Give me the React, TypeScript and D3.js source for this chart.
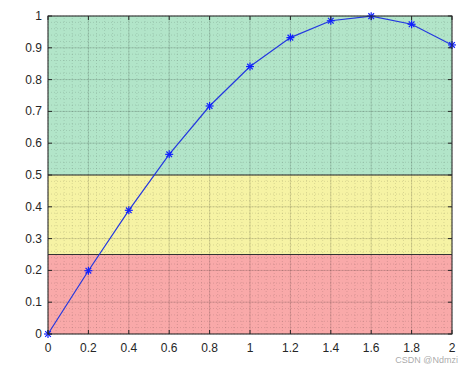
import React, { useEffect, useRef } from 'react';
import * as d3 from 'd3';

const xs = [0, 0.2, 0.4, 0.6, 0.8, 1, 1.2, 1.4, 1.6, 1.8, 2];
const ys = [0, 0.199, 0.389, 0.565, 0.717, 0.841, 0.932, 0.985, 0.9996, 0.974, 0.909];
const xTicks = [0, 0.2, 0.4, 0.6, 0.8, 1, 1.2, 1.4, 1.6, 1.8, 2];
const yTicks = [0, 0.1, 0.2, 0.3, 0.4, 0.5, 0.6, 0.7, 0.8, 0.9, 1];
const bands = [
  { from: 0, to: 0.25, color: '#f9a9a9' },
  { from: 0.25, to: 0.5, color: '#f6f3a4' },
  { from: 0.5, to: 1, color: '#b2e5c9' },
];

const App = () => {
  const ref = useRef<SVGSVGElement>(null);

  useEffect(() => {
    const width = 474;
    const height = 366;
    const m = { left: 48, right: 22, top: 16, bottom: 32 };

    const svg = d3.select(ref.current);
    svg.selectAll('*').remove();

    const x = d3.scaleLinear().domain([0, 2]).range([m.left, width - m.right]);
    const y = d3.scaleLinear().domain([0, 1]).range([height - m.bottom, m.top]);

    // colour bands
    svg.selectAll('.band')
      .data(bands)
      .enter().append('rect')
      .attr('x', x(0))
      .attr('y', d => y(d.to))
      .attr('width', x(2) - x(0))
      .attr('height', d => y(d.from) - y(d.to))
      .attr('fill', d => d.color);

    // minor grid (dotted)
    const xMinor = d3.range(0, 2.0001, 0.04);
    const yMinor = d3.range(0, 1.0001, 0.02);
    const g = svg.append('g');
    g.selectAll('.xm').data(xMinor).enter().append('line')
      .attr('x1', d => x(d)).attr('x2', d => x(d))
      .attr('y1', y(0)).attr('y2', y(1))
      .attr('stroke', '#000').attr('stroke-opacity', 0.12)
      .attr('stroke-dasharray', '1,2');
    g.selectAll('.ym').data(yMinor).enter().append('line')
      .attr('y1', d => y(d)).attr('y2', d => y(d))
      .attr('x1', x(0)).attr('x2', x(2))
      .attr('stroke', '#000').attr('stroke-opacity', 0.12)
      .attr('stroke-dasharray', '1,2');

    // major grid
    g.selectAll('.xg').data(xTicks).enter().append('line')
      .attr('x1', d => x(d)).attr('x2', d => x(d))
      .attr('y1', y(0)).attr('y2', y(1))
      .attr('stroke', '#000').attr('stroke-opacity', 0.13);
    g.selectAll('.yg').data(yTicks).enter().append('line')
      .attr('y1', d => y(d)).attr('y2', d => y(d))
      .attr('x1', x(0)).attr('x2', x(2))
      .attr('stroke', '#000').attr('stroke-opacity', 0.13);

    // band edges
    svg.selectAll('.edge')
      .data([0.25, 0.5])
      .enter().append('line')
      .attr('x1', x(0)).attr('x2', x(2))
      .attr('y1', d => y(d)).attr('y2', d => y(d))
      .attr('stroke', '#333').attr('stroke-width', 1);

    // line
    const line = d3.line<number>()
      .x((d, i) => x(xs[i]))
      .y(d => y(d));
    svg.append('path')
      .datum(ys)
      .attr('d', line)
      .attr('fill', 'none')
      .attr('stroke', '#2438e0')
      .attr('stroke-width', 1.2);

    // star markers
    svg.selectAll('.mk')
      .data(ys)
      .enter().append('g')
      .attr('transform', (d, i) => `translate(${x(xs[i])},${y(d)})`)
      .each(function () {
        const s = d3.select(this);
        const r = 4;
        [0, 45, 90, 135].forEach(a => {
          const rad = (a * Math.PI) / 180;
          s.append('line')
            .attr('x1', -r * Math.cos(rad)).attr('y1', -r * Math.sin(rad))
            .attr('x2', r * Math.cos(rad)).attr('y2', r * Math.sin(rad))
            .attr('stroke', '#1020ff').attr('stroke-width', 1.2);
        });
      });

    // box
    svg.append('rect')
      .attr('x', x(0)).attr('y', y(1))
      .attr('width', x(2) - x(0)).attr('height', y(0) - y(1))
      .attr('fill', 'none').attr('stroke', '#262626').attr('stroke-width', 1);

    // ticks inside, all four sides
    const tl = 4;
    const ticks = svg.append('g').attr('stroke', '#262626');
    xTicks.forEach(t => {
      ticks.append('line').attr('x1', x(t)).attr('x2', x(t)).attr('y1', y(0)).attr('y2', y(0) - tl);
      ticks.append('line').attr('x1', x(t)).attr('x2', x(t)).attr('y1', y(1)).attr('y2', y(1) + tl);
    });
    yTicks.forEach(t => {
      ticks.append('line').attr('y1', y(t)).attr('y2', y(t)).attr('x1', x(0)).attr('x2', x(0) + tl);
      ticks.append('line').attr('y1', y(t)).attr('y2', y(t)).attr('x1', x(2)).attr('x2', x(2) - tl);
    });

    // labels
    const font = 'Liberation Sans, Arial, sans-serif';
    svg.selectAll('.xl').data(xTicks).enter().append('text')
      .attr('x', d => x(d)).attr('y', y(0) + 18)
      .attr('text-anchor', 'middle')
      .attr('font-family', font).attr('font-size', 12).attr('fill', '#262626')
      .text(d => String(d));
    svg.selectAll('.yl').data(yTicks).enter().append('text')
      .attr('x', x(0) - 6).attr('y', d => y(d) + 4)
      .attr('text-anchor', 'end')
      .attr('font-family', font).attr('font-size', 12).attr('fill', '#262626')
      .text(d => String(d));

    // watermark
    svg.append('text')
      .attr('x', 458).attr('y', 363)
      .attr('text-anchor', 'end')
      .attr('font-family', font).attr('font-size', 9)
      .attr('fill', '#a0a0a0').attr('fill-opacity', 0.9)
      .text('CSDN @Ndmzi');
  }, []);

  return (
    <svg ref={ref} width={474} height={366}
      style={{ position: 'absolute', left: 0, top: 0, background: '#fff' }} />
  );
};

export default App;
